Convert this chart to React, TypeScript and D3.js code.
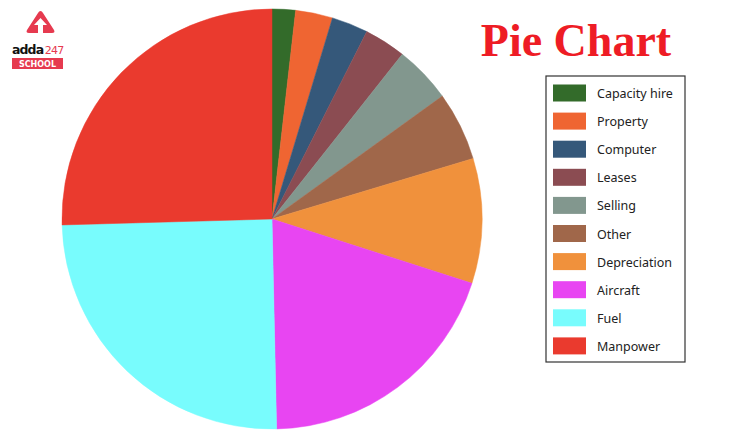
import React, { useEffect, useRef } from 'react';
import * as d3 from 'd3';

// share of cost, percent
const categories = [
  'Capacity hire',
  'Property',
  'Computer',
  'Leases',
  'Selling',
  'Other',
  'Depreciation',
  'Aircraft',
  'Fuel',
  'Manpower'
];
const values = [1.8, 2.85, 2.8, 3.2, 4.4, 5.3, 9.6, 19.7, 24.9, 25.45];
const colors = [
  '#336b2a',
  '#ef6532',
  '#35587a',
  '#8b4c52',
  '#82978e',
  '#a0674a',
  '#f0913c',
  '#e845f2',
  '#78fcfd',
  '#ea3a2e'
];

const PieChart = () => {
  const container = useRef(null);

  const width = 730;
  const height = 431;
  const cx = 272;
  const cy = 219;
  const radius = 210;

  useEffect(() => {
    createChart();
  }, []);

  const createChart = () => {
    const svg = d3
      .select(container.current)
      .selectAll('svg')
      .data([0])
      .join('svg')
      .attr('width', width)
      .attr('height', height)
      .style('position', 'absolute')
      .style('left', 0)
      .style('top', 0)
      .style('background', '#fff');

    const data = categories.map((c, i) => ({ name: c, value: values[i], color: colors[i] }));

    const pie = d3
      .pie()
      .sort(null)
      .value(d => d.value);

    const arc = d3.arc().innerRadius(0).outerRadius(radius);

    const pieg = svg
      .selectAll('.pieg')
      .data([0])
      .join('g')
      .attr('class', 'pieg')
      .attr('transform', `translate(${cx},${cy})`);

    pieg
      .selectAll('path')
      .data(pie(data))
      .join('path')
      .attr('d', arc)
      .attr('fill', d => d.data.color)
      .attr('stroke', d => d.data.color)
      .attr('stroke-width', 0.5);

    // title
    svg
      .selectAll('.title')
      .data([0])
      .join('text')
      .attr('class', 'title')
      .attr('x', 576)
      .attr('y', 56)
      .attr('text-anchor', 'middle')
      .attr('font-family', '"Liberation Serif", "Times New Roman", serif')
      .attr('font-weight', 'bold')
      .attr('font-size', 46)
      .attr('fill', '#ee1c25')
      .text('Pie Chart');

    // legend
    const lx = 546;
    const ly = 76;
    const rowh = 28.1;
    const legend = svg
      .selectAll('.legend')
      .data([0])
      .join('g')
      .attr('class', 'legend')
      .attr('transform', `translate(${lx},${ly})`);

    legend
      .selectAll('rect.box')
      .data([0])
      .join('rect')
      .attr('class', 'box')
      .attr('x', 0)
      .attr('y', 0)
      .attr('width', 139)
      .attr('height', 286)
      .attr('fill', '#fff')
      .attr('stroke', '#333')
      .attr('stroke-width', 1.2);

    const rows = legend
      .selectAll('g.row')
      .data(data)
      .join('g')
      .attr('class', 'row')
      .attr('transform', (d, i) => `translate(0,${17 + i * rowh})`);

    rows
      .selectAll('rect')
      .data(d => [d])
      .join('rect')
      .attr('x', 7)
      .attr('y', -8.5)
      .attr('width', 33)
      .attr('height', 17)
      .attr('fill', d => d.color);

    rows
      .selectAll('text')
      .data(d => [d])
      .join('text')
      .attr('x', 51)
      .attr('y', 5)
      .attr('font-family', '"Noto Sans", "Open Sans", sans-serif')
      .attr('font-size', 12.5)
      .attr('fill', '#222')
      .text(d => d.name);

    // logo
    const logo = svg
      .selectAll('.logo')
      .data([0])
      .join('g')
      .attr('class', 'logo');

    logo
      .selectAll('path.mark')
      .data([0])
      .join('path')
      .attr('class', 'mark')
      .attr('d', 'M40.5,11 Q42,11 43,13 L54,30 Q55.5,33 52,33 L29,33 Q25.5,33 27,30 L38,13 Q39,11 40.5,11 Z')
      .attr('fill', '#e63a4f');

    logo
      .selectAll('path.arrow')
      .data([0])
      .join('path')
      .attr('class', 'arrow')
      .attr('d', 'M40.5,18 L47,25 L43,25 L43,33 L38,33 L38,25 L34,25 Z')
      .attr('fill', '#fff');

    const brand = logo
      .selectAll('text.brand')
      .data([0])
      .join('text')
      .attr('class', 'brand')
      .attr('x', 12)
      .attr('y', 54)
      .attr('font-family', '"DejaVu Sans", sans-serif');

    brand
      .selectAll('tspan.adda')
      .data([0])
      .join('tspan')
      .attr('class', 'adda')
      .attr('font-weight', 'bold')
      .attr('font-size', 12.5)
      .attr('letter-spacing', -0.9)
      .attr('fill', '#111')
      .text('adda');

    brand
      .selectAll('tspan.num')
      .data([0])
      .join('tspan')
      .attr('class', 'num')
      .attr('dx', 1.5)
      .attr('font-size', 11)
      .attr('letter-spacing', -0.7)
      .attr('fill', '#e63a4f')
      .text('247');

    logo
      .selectAll('rect.school')
      .data([0])
      .join('rect')
      .attr('class', 'school')
      .attr('x', 12)
      .attr('y', 58)
      .attr('width', 51)
      .attr('height', 11)
      .attr('fill', '#e63a4f');

    logo
      .selectAll('text.school')
      .data([0])
      .join('text')
      .attr('class', 'school')
      .attr('x', 37.5)
      .attr('y', 66.8)
      .attr('text-anchor', 'middle')
      .attr('font-family', '"DejaVu Sans", sans-serif')
      .attr('font-weight', 'bold')
      .attr('font-size', 8)
      .attr('fill', '#fff')
      .text('SCHOOL');
  };

  return <div className="piechart-container" ref={container}></div>;
};

export default function App() {
  return <PieChart />;
}
